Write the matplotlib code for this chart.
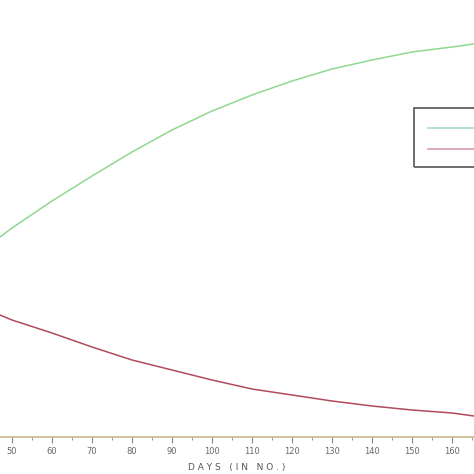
import matplotlib.pyplot as plt
from matplotlib.patches import Rectangle
from matplotlib.lines import Line2D
import numpy as np

plt.rcParams['savefig.bbox'] = 'standard'

days = [47, 50, 60, 70, 80, 90, 100, 110, 120, 130, 140, 150, 160, 165.5]
green = [200, 209, 236, 261, 285, 307, 326, 342, 356, 368, 377, 385, 390, 393]
red = [122, 117, 104, 90, 77, 67, 57, 48, 42, 36, 31, 27, 24, 21]
xticks = [50, 60, 70, 80, 90, 100, 110, 120, 130, 140, 150, 160]

fig = plt.figure(figsize=(4.74, 4.74), dpi=100)
ax = fig.add_axes([0, 37 / 474, 1, 437 / 474])

ax.plot(days, green, color='#8fd88f', lw=1.1)
ax.plot(days, red, color='#b04a5c', lw=1.1)

for s in ['top', 'right', 'left']:
    ax.spines[s].set_visible(False)
ax.spines['bottom'].set_color('#c8b888')
ax.spines['bottom'].set_linewidth(1.2)
ax.set_yticks([])
ax.set_xticks(xticks)
ax.set_xticks(np.arange(45, 170, 5), minor=True)
ax.tick_params(axis='x', which='major', direction='out', length=4,
               color='#888888', labelsize=6, labelcolor='#666666', pad=3)
ax.tick_params(axis='x', which='minor', direction='out', length=2,
               color='#888888')
ax.set_xlabel('D A Y S   ( I N   N O . )', fontsize=6.5, color='#555555',
              labelpad=5)

# limits after the ticks, so the minor ticks do not widen them
ax.set_xlim(47, 165.5)
ax.set_ylim(0, 437)

# legend box, cut by the right edge
box = Rectangle((414 / 474, 1 - 167 / 474), 0.2, 59 / 474,
                transform=fig.transFigure, fill=False,
                edgecolor='#555555', lw=1.2, clip_on=False)
fig.patches.append(box)
fig.lines.append(Line2D([428 / 474, 1], [1 - 128 / 474] * 2,
                        transform=fig.transFigure, color='#a8dcc4', lw=1.2))
fig.lines.append(Line2D([428 / 474, 1], [1 - 149 / 474] * 2,
                        transform=fig.transFigure, color='#d89aac', lw=1.2))

fig.savefig('out.png', dpi=100, bbox_inches=None, pad_inches=0)
